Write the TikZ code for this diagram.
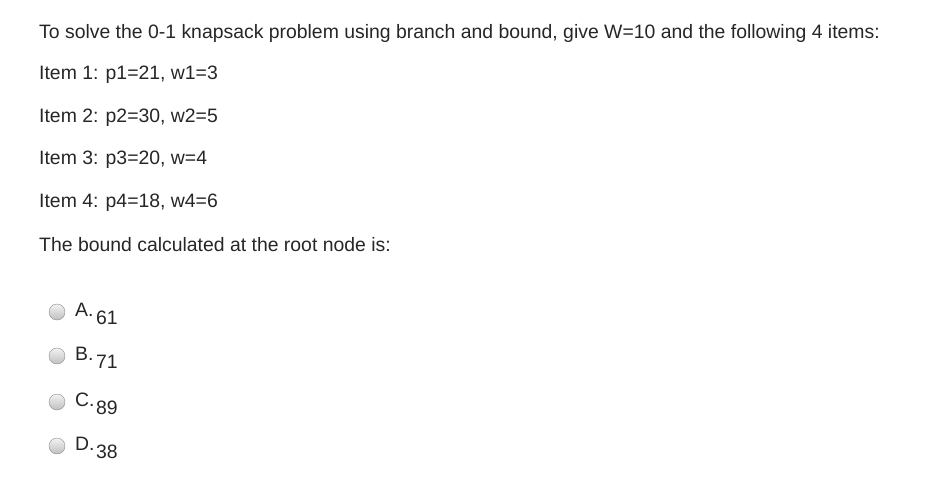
\documentclass[tikz,border=0pt]{standalone}
\usepackage{fontspec}
\setmainfont{Liberation Sans}
\begin{document}
\begin{tikzpicture}[x=1pt,y=-1pt,
  txt/.style={anchor=west,inner sep=0pt,font=\fontsize{19.4}{22}\selectfont,text=black!85},
  radio/.style={circle,draw=black!45,minimum size=16pt,inner sep=0pt,top color=black!5,bottom color=black!25}]
\useasboundingbox (0,0) rectangle (929,495);
\node[txt] (q) at (39,33) {To solve the 0-1 knapsack problem using branch and bound, give W=10 and the following 4 items:};
\node[txt] (i1) at (39,75) {Item 1: p1=21, w1=3};
\node[txt] (i2) at (39,118) {Item 2: p2=30, w2=5};
\node[txt] (i3) at (39,160) {Item 3: p3=20, w=4};
\node[txt] (i4) at (39,203) {Item 4: p4=18, w4=6};
\node[txt] (b) at (39,245) {The bound calculated at the root node is:};
\foreach \n/\l/\v/\y in {a/A./61/312,b/B./71/356,c/C./89/402,d/D./38/446}{
  \node[radio] (r\n) at (57,\y) {};
  \node[txt] (l\n) at (75,\y-2) {\l};
  \node[txt] (v\n) at (96,\y+6) {\v};
}
\end{tikzpicture}
\end{document}
